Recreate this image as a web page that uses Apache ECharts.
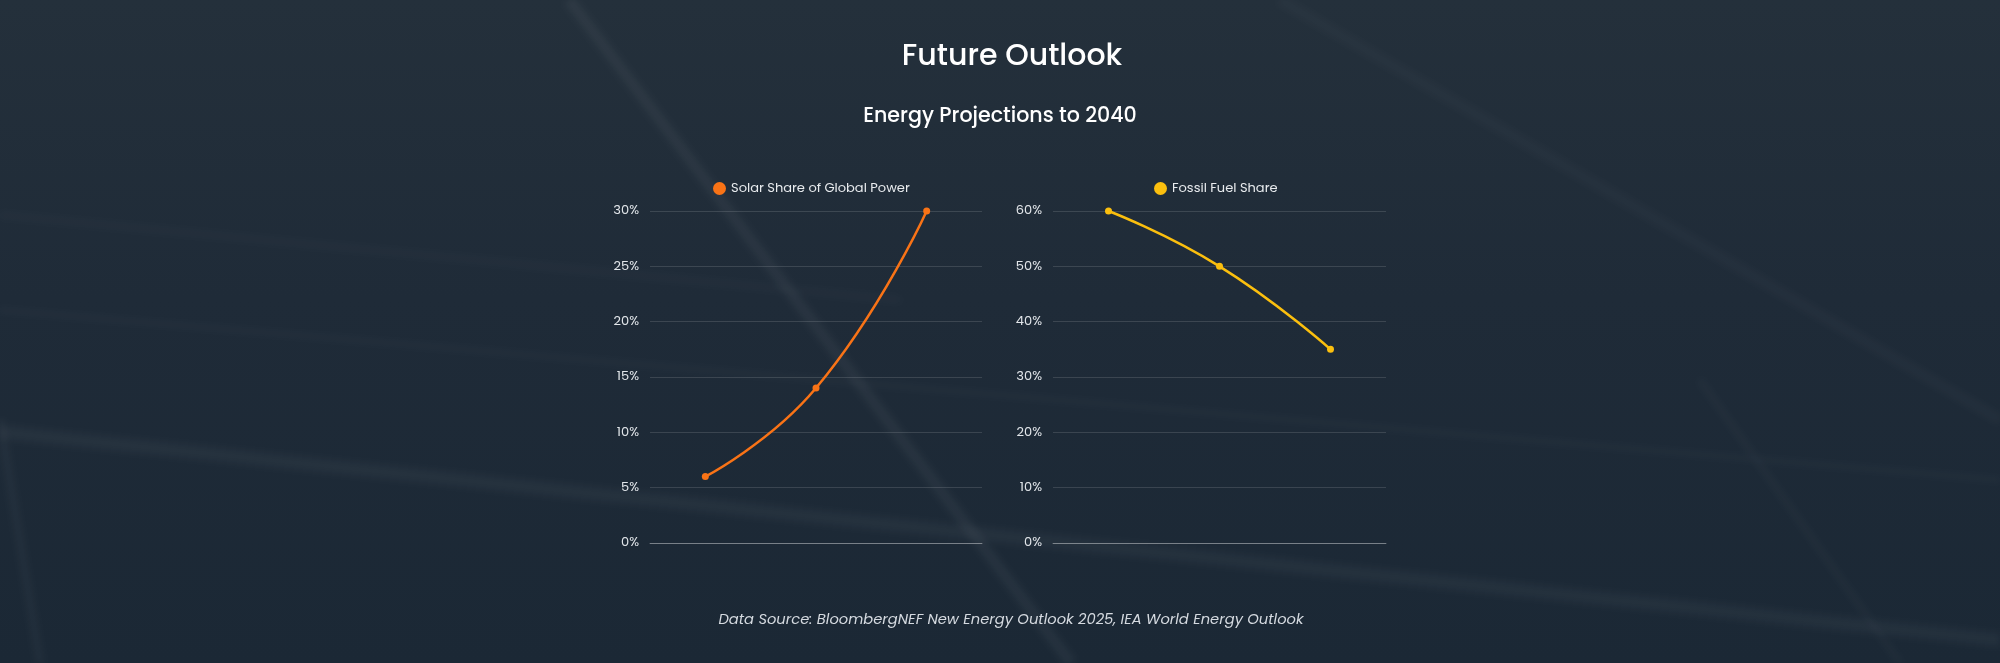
<!doctype html>
<html>
<head>
<meta charset="utf-8">
<title>Future Outlook</title>
<script src="https://cdn.jsdelivr.net/npm/echarts@6/dist/echarts.min.js"></script>
<style>
  html, body { margin: 0; padding: 0; width: 2000px; height: 663px; overflow: hidden; }
  body { background: linear-gradient(180deg, #24303b 0%, #1f2b38 45%, #1b2835 100%); position: relative; }
  .bg { position: absolute; left: 0; top: 0; width: 2000px; height: 663px; }
  #chart { position: absolute; left: 0; top: 0; width: 2000px; height: 663px; }
</style>
</head>
<body>
<!-- faint streaks of the photo background -->
<svg class="bg" width="2000" height="663">
  <defs><filter id="b"><feGaussianBlur stdDeviation="3"/></filter></defs>
  <g stroke="#ffffff" fill="none" filter="url(#b)">
    <line x1="569" y1="0" x2="1071" y2="663" stroke-width="12" stroke-opacity="0.045"/>
    <line x1="0" y1="432" x2="2000" y2="640" stroke-width="14" stroke-opacity="0.035"/>
    <line x1="0" y1="310" x2="2000" y2="480" stroke-width="3" stroke-opacity="0.035"/>
    <line x1="0" y1="215" x2="900" y2="300" stroke-width="6" stroke-opacity="0.02"/>
    <line x1="1280" y1="0" x2="2000" y2="420" stroke-width="10" stroke-opacity="0.022"/>
    <line x1="1700" y1="380" x2="1900" y2="663" stroke-width="6" stroke-opacity="0.025"/>
    <line x1="0" y1="420" x2="40" y2="663" stroke-width="8" stroke-opacity="0.03"/>
  </g>
</svg>
<div id="chart"></div>
<script>
  var years = ['2025', '2030', '2040'];
  var solarShare = [6, 14, 30];
  var fossilShare = [60, 50, 35];
  var solarTicks = { max: 30, interval: 5 };
  var fossilTicks = { max: 60, interval: 10 };

  var font = 'Poppins, "Open Sans", "Noto Sans", sans-serif';
  var chart = echarts.init(document.getElementById('chart'), null, { renderer: 'canvas' });

  function yAxis(idx, ticks) {
    return {
      type: 'value',
      gridIndex: idx,
      min: 0,
      max: ticks.max,
      interval: ticks.interval,
      axisLine: { show: false },
      axisTick: { show: false },
      axisLabel: { color: '#e2e6ea', fontSize: 13, fontFamily: font, margin: 11, formatter: '{value}%' },
      splitLine: { lineStyle: { color: 'rgba(255,255,255,0.13)', width: 1 } }
    };
  }

  function xAxis(idx) {
    return {
      type: 'category',
      gridIndex: idx,
      data: years,
      boundaryGap: true,
      axisLine: { show: true, lineStyle: { color: 'rgba(255,255,255,0.32)', width: 1 } },
      axisTick: { show: false },
      axisLabel: { show: false }
    };
  }

  function line(name, idx, data, color) {
    return {
      name: name,
      type: 'line',
      xAxisIndex: idx,
      yAxisIndex: idx,
      data: data,
      smooth: true,
      symbol: 'circle',
      symbolSize: 7,
      lineStyle: { color: color, width: 2.5 },
      itemStyle: { color: color },
      animation: false
    };
  }

  chart.setOption({
    animation: false,
    graphic: [{
      type: 'text', x: 1012, y: 57,
      style: { text: 'Future Outlook', fill: '#ffffff', fontSize: 30, fontWeight: 500, fontFamily: font, align: 'center', verticalAlign: 'middle' }
    }, {
      type: 'text', x: 1000, y: 117,
      style: { text: 'Energy Projections to 2040', fill: '#ffffff', fontSize: 20.6, fontWeight: 500, fontFamily: font, align: 'center', verticalAlign: 'middle' }
    }, {
      type: 'text', x: 1011, y: 620,
      style: { text: 'Data Source: BloombergNEF New Energy Outlook 2025, IEA World Energy Outlook', fill: '#d5dae0', fontSize: 14.7, fontStyle: 'italic', fontFamily: font, align: 'center', verticalAlign: 'middle' }
    }],
    legend: [{
      data: ['Solar Share of Global Power'],
      left: 713, top: 182, padding: 0,
      icon: 'circle', itemWidth: 13, itemHeight: 13, itemGap: 6,
      textStyle: { color: '#e8ebee', fontSize: 13, fontFamily: font }
    }, {
      data: ['Fossil Fuel Share'],
      left: 1154, top: 182, padding: 0,
      icon: 'circle', itemWidth: 13, itemHeight: 13, itemGap: 6,
      textStyle: { color: '#e8ebee', fontSize: 13, fontFamily: font }
    }],
    grid: [
      { left: 650, top: 211, width: 332, height: 332 },
      { left: 1053, top: 211, width: 333, height: 332 }
    ],
    xAxis: [xAxis(0), xAxis(1)],
    yAxis: [yAxis(0, solarTicks), yAxis(1, fossilTicks)],
    series: [
      line('Solar Share of Global Power', 0, solarShare, '#f97316'),
      line('Fossil Fuel Share', 1, fossilShare, '#fbbf0e')
    ]
  });
</script>
</body>
</html>
